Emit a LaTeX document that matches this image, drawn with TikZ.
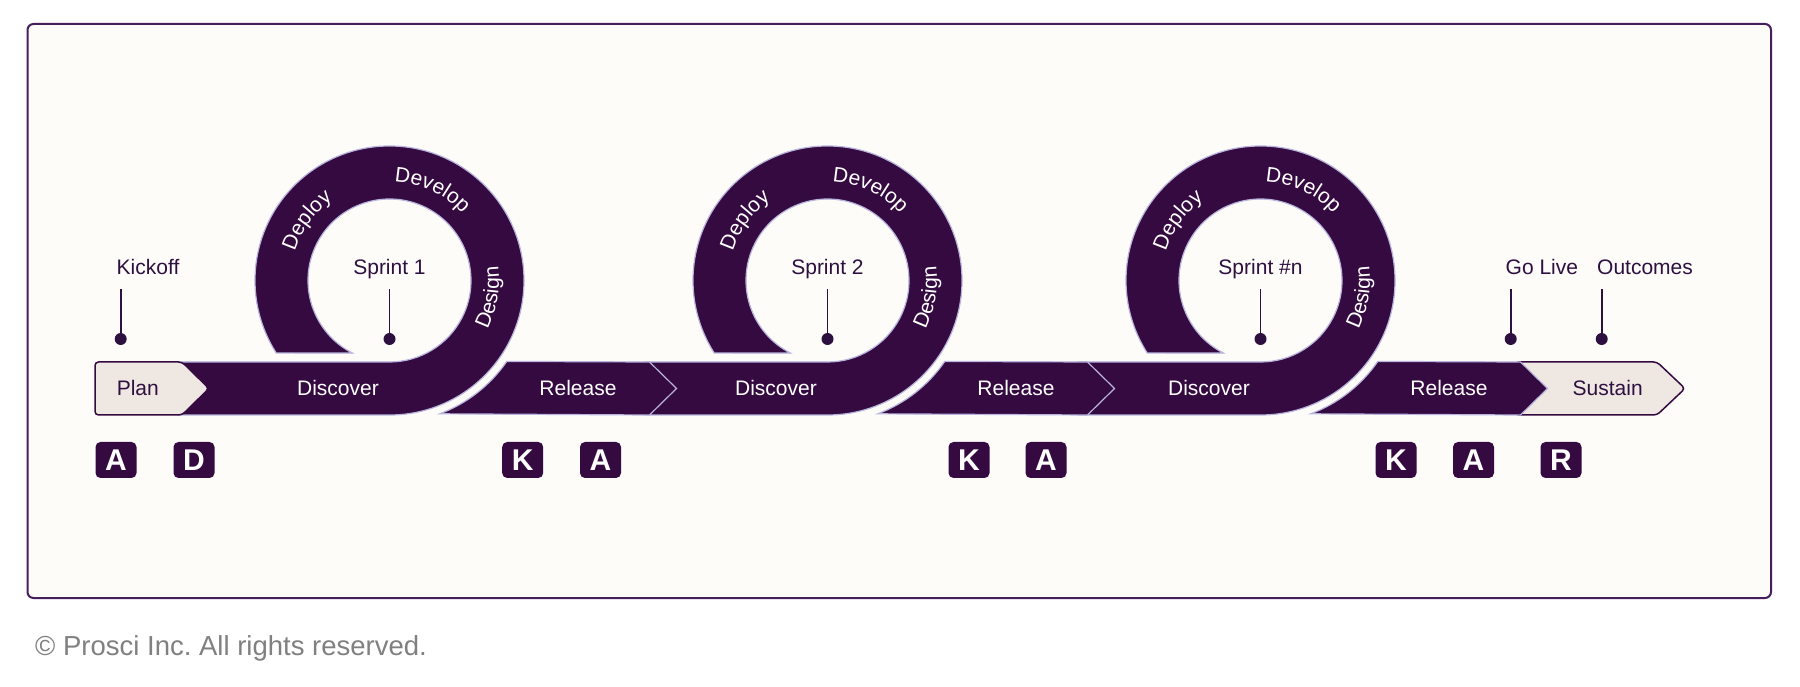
\documentclass[tikz,border=0pt]{standalone}
\usepackage{fontspec}
\setmainfont{Liberation Sans}
\usetikzlibrary{decorations.text}
\definecolor{dp}{RGB}{53,10,65}
\definecolor{lav}{RGB}{184,180,222}
\definecolor{beige}{RGB}{239,231,225}
\definecolor{bg}{RGB}{253,252,248}
\definecolor{txt}{RGB}{46,16,64}
\definecolor{frm}{RGB}{70,30,92}
\definecolor{foot}{RGB}{128,128,128}
\begin{document}
\begin{tikzpicture}[x=1pt,y=1pt,
  band/.style={fill=dp, draw=lav, line width=1.2pt},
  light/.style={fill=beige, draw=dp, line width=1.5pt, rounded corners=3.5pt},
  lbl/.style={font=\fontsize{21}{25}\selectfont, text=txt, inner sep=0pt},
  wlbl/.style={font=\fontsize{21}{25}\selectfont, text=white, inner sep=0pt},
  badge/.style={fill=dp, rounded corners=5pt, minimum width=41pt, minimum height=36pt, inner sep=0pt, text=white, font=\fontsize{30}{30}\selectfont\bfseries},
  pinline/.style={draw=txt, line width=1.6pt},
  pindot/.style={fill=txt, circle, inner sep=0pt, minimum size=12pt},
  ringtext/.style={decorate, decoration={text along path, text align=center, text color=white, text={|\fontsize{21}{25}\selectfont|#1}}}
]
\useasboundingbox (0,0) rectangle (1800,686);
\fill[white] (0,0) rectangle (1800,686);
\draw[fill=bg, draw=frm, line width=2pt, rounded corners=6pt] (27.5,88) rectangle (1771,662);

% Sustain (under Release 3)
\draw[light] (1515,324) -- (1657,324) -- (1685,297.5) -- (1657,271) -- (1515,271) -- cycle;
\node[lbl, anchor=base] (sustain) at (1607.7,290.3) {Sustain};

% Discover bands with sprint loops
\foreach \cx/\xs/\n/\sp in {389.5/178/1/Sprint 1, 827.5/645/2/Sprint 2, 1260.5/1078/3/Sprint \#n} {
  \draw[band] (\xs,271) -- (\cx,271)
    arc[start angle=-90, end angle=212.62, radius=134.5]
    -- ([shift={(\cx,405.5)}]242.83:81.5)
    arc[start angle=242.83, end angle=-90, radius=81.5]
    -- (\xs,324) -- cycle;
  \node[wlbl, anchor=base] (disc\n) at (\cx-51.5,290.3) {Discover};
  \path[ringtext=Deploy] ([shift={(\cx,405.5)}]174:99) arc[start angle=174, end angle=114, radius=99];
  \path[ringtext=Develop] ([shift={(\cx,405.5)}]99.9:99) arc[start angle=99.9, end angle=29.9, radius=99];
  \path[ringtext=Design] ([shift={(\cx,405.5)}]-44.6:109.5) arc[start angle=-44.6, end angle=25.4, radius=109.5];
  \node[pindot] (sdot\n) at (\cx,347) {};
  \coordinate (stop\n) at (\cx,397);
  \draw[pinline] (sdot\n.center) -- (stop\n);
  \node[lbl, anchor=base] (slbl\n) at (\cx,411) {\sp};
}

% Release arrows
\foreach \cx/\n in {389.5/1, 827.5/2, 1260.5/3} {
  \draw[band] ([shift={(\cx,405.5)}]-34.6:142.5) -- (\cx+260,324) -- (\cx+287,297.5) -- (\cx+260,271)
    -- ([shift={(\cx,405.5)}]-69.3:142.5)
    arc[start angle=-69.3, end angle=-34.6, radius=142.5] -- cycle;
  \node[wlbl, anchor=base] (rel\n) at (\cx+188.5,290.3) {Release};
}

% Plan
\draw[light] (95,324) -- (182,324) -- (209,297.5) -- (182,271) -- (95,271) -- cycle;
\node[lbl, anchor=base] (plan) at (137.8,290.3) {Plan};

% Milestone pins
\foreach \px/\tx/\nm/\t in {120.7/116.5/kick/Kickoff, 1510.7/1505.5/golive/Go Live, 1601.7/1597/outc/Outcomes} {
  \node[pindot] (\nm dot) at (\px,347) {};
  \coordinate (\nm top) at (\px,397);
  \draw[pinline] (\nm dot.center) -- (\nm top);
  \node[lbl, anchor=base west] (\nm) at (\tx,411) {\t};
}

% Badges
\foreach \bx/\l/\k in {116/A/1, 194/D/2, 522.7/K/3, 600.5/A/4, 969/K/5, 1046/A/6, 1396/K/7, 1473.5/A/8, 1561/R/9} {
  \node[badge] (badge\k) at (\bx,226) {\l};
}

% Footer
\node[anchor=base west, inner sep=0pt, text=foot, font=\fontsize{27.5}{32}\selectfont] (footer) at (35,31) {\frenchspacing © Prosci Inc. All rights reserved.};
\end{tikzpicture}
\end{document}
